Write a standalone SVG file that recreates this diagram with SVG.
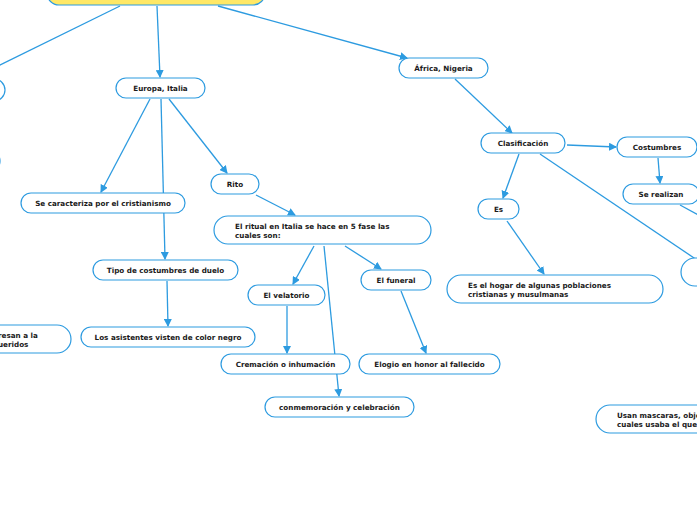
<svg xmlns="http://www.w3.org/2000/svg" width="697" height="520" viewBox="0 0 697 520">
<style>
.n rect{fill:#fff;stroke:#2d9be0;stroke-width:1.2}
.n text{font-family:"DejaVu Sans",sans-serif;font-weight:bold;font-size:7.2px;fill:#1a1a1a}
.c line{stroke:#2d9be0;stroke-width:1.3}
</style>
<defs><marker id="a" markerWidth="8" markerHeight="8" refX="7" refY="4" orient="auto" markerUnits="userSpaceOnUse"><path d="M0,0 L8,4 L0,8 Z" fill="#2d9be0"/></marker></defs>
<rect width="697" height="520" fill="#fff"/>
<g class="c">
<line x1="120" y1="6" x2="-2" y2="66"/>
<line x1="157" y1="6" x2="160" y2="77" marker-end="url(#a)"/>
<line x1="218" y1="6" x2="407" y2="58" marker-end="url(#a)"/>
<line x1="150" y1="99" x2="101" y2="192" marker-end="url(#a)"/>
<line x1="161" y1="99" x2="165" y2="259" marker-end="url(#a)"/>
<line x1="169" y1="99" x2="227" y2="173" marker-end="url(#a)"/>
<line x1="256" y1="195" x2="295" y2="215" marker-end="url(#a)"/>
<line x1="314" y1="246" x2="293" y2="284" marker-end="url(#a)"/>
<line x1="345" y1="246" x2="381" y2="269" marker-end="url(#a)"/>
<line x1="324" y1="246" x2="339" y2="396" marker-end="url(#a)"/>
<line x1="287" y1="306" x2="287" y2="353" marker-end="url(#a)"/>
<line x1="401" y1="291" x2="426" y2="353" marker-end="url(#a)"/>
<line x1="167" y1="281" x2="168" y2="326" marker-end="url(#a)"/>
<line x1="455" y1="79" x2="512" y2="133" marker-end="url(#a)"/>
<line x1="519" y1="154" x2="503" y2="198" marker-end="url(#a)"/>
<line x1="567" y1="145" x2="616" y2="147" marker-end="url(#a)"/>
<line x1="540" y1="154" x2="700" y2="262"/>
<line x1="658" y1="158" x2="660" y2="183" marker-end="url(#a)"/>
<line x1="680" y1="205" x2="700" y2="216"/>
<line x1="507" y1="221" x2="544" y2="274" marker-end="url(#a)"/>
</g>
<g id="root" class="n"><rect x="47" y="-20" width="218" height="25" rx="12" style="fill:#ffe866"/></g>
<g id="left1" class="n"><rect x="-60" y="79" width="65" height="22" rx="11"/></g>
<g id="left2" class="n"><rect x="-60" y="150" width="60" height="22" rx="11"/></g>
<g id="europa" class="n"><rect x="116" y="78" width="89" height="20" rx="10"/><text x="160.5" y="91" text-anchor="middle">Europa, Italia</text></g>
<g id="africa" class="n"><rect x="399" y="58" width="89" height="20" rx="10"/><text x="443.5" y="71" text-anchor="middle">África, Nigeria</text></g>
<g id="cristianismo" class="n"><rect x="21" y="193" width="164" height="20" rx="10"/><text x="103" y="206" text-anchor="middle">Se caracteriza por el cristianismo</text></g>
<g id="rito" class="n"><rect x="211" y="174" width="48" height="20" rx="10"/><text x="235" y="187" text-anchor="middle">Rito</text></g>
<g id="ritual" class="n"><rect x="214" y="216" width="217" height="28" rx="14"/><text x="235" y="229">El ritual en Italia se hace en 5 fase las</text><text x="235" y="238">cuales son:</text></g>
<g id="tipo" class="n"><rect x="93" y="260" width="145" height="20" rx="10"/><text x="165.5" y="273" text-anchor="middle">Tipo de costumbres de duelo</text></g>
<g id="velatorio" class="n"><rect x="248" y="285" width="77" height="20" rx="10"/><text x="286.5" y="298" text-anchor="middle">El velatorio</text></g>
<g id="funeral" class="n"><rect x="361" y="270" width="70" height="20" rx="10"/><text x="396" y="283" text-anchor="middle">El funeral</text></g>
<g id="expresan" class="n"><rect x="-100" y="325" width="171" height="28" rx="14"/><text x="-2" y="338">resan a la</text><text x="-2" y="347">ueridos</text></g>
<g id="asistentes" class="n"><rect x="81" y="327" width="174" height="20" rx="10"/><text x="168" y="340" text-anchor="middle">Los asistentes visten de color negro</text></g>
<g id="cremacion" class="n"><rect x="221" y="354" width="129" height="20" rx="10"/><text x="285.5" y="367" text-anchor="middle">Cremación o inhumación</text></g>
<g id="elogio" class="n"><rect x="359" y="354" width="141" height="20" rx="10"/><text x="429.5" y="367" text-anchor="middle">Elogio en honor al fallecido</text></g>
<g id="conmemoracion" class="n"><rect x="265" y="397" width="149" height="20" rx="10"/><text x="339.5" y="410" text-anchor="middle">conmemoración y celebración</text></g>
<g id="clasificacion" class="n"><rect x="481" y="133" width="84" height="20" rx="10"/><text x="523" y="146" text-anchor="middle">Clasificación</text></g>
<g id="costumbres" class="n"><rect x="617" y="137" width="80" height="20" rx="10"/><text x="657" y="150" text-anchor="middle">Costumbres</text></g>
<g id="serealizan" class="n"><rect x="623" y="184" width="76" height="20" rx="10"/><text x="661" y="197" text-anchor="middle">Se realizan</text></g>
<g id="es" class="n"><rect x="478" y="199" width="41" height="20" rx="10"/><text x="498.5" y="212" text-anchor="middle">Es</text></g>
<g id="hogar" class="n"><rect x="447" y="275" width="216" height="28" rx="14"/><text x="468" y="288">Es el hogar de algunas poblaciones</text><text x="468" y="297">cristianas y musulmanas</text></g>
<g id="right1" class="n"><rect x="681" y="258" width="60" height="28" rx="14"/></g>
<g id="mascaras" class="n"><rect x="596" y="405" width="160" height="28" rx="14"/><text x="617" y="418">Usan mascaras, obje</text><text x="617" y="427">cuales usaba el que</text></g>
</svg>
